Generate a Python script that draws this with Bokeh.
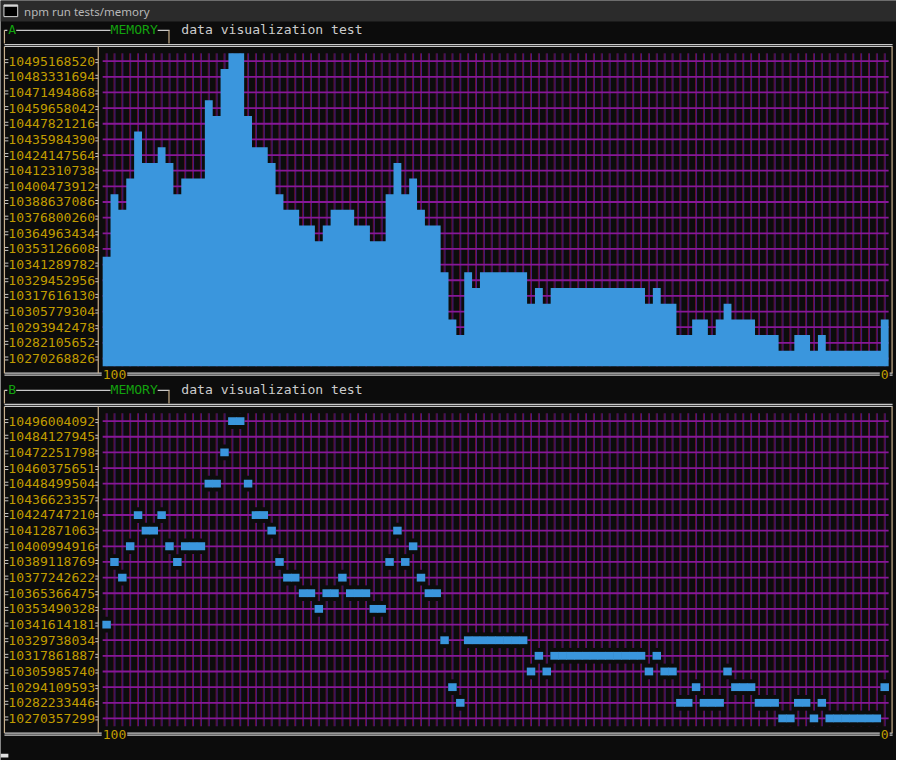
import numpy as np
from bokeh.plotting import figure
from bokeh.models import Range1d
from bokeh.embed import file_html
from bokeh.resources import INLINE
from bokeh.core.properties import value

# ---------------- data ----------------
window_title = "npm run tests/memory"
chart_title = "data visualization test"
series_name = "MEMORY"
panel_names = ["A", "B"]
x_tick_labels = ["100", "0"]

ticks_a = ["10495168520", "10483331694", "10471494868", "10459658042", "10447821216",
           "10435984390", "10424147564", "10412310738", "10400473912", "10388637086",
           "10376800260", "10364963434", "10353126608", "10341289782", "10329452956",
           "10317616130", "10305779304", "10293942478", "10282105652", "10270268826"]

ticks_b = ["10496004092", "10484127945", "10472251798", "10460375651", "10448499504",
           "10436623357", "10424747210", "10412871063", "10400994916", "10389118769",
           "10377242622", "10365366475", "10353490328", "10341614181", "10329738034",
           "10317861887", "10305985740", "10294109593", "10282233446", "10270357299"]

# memory readings in millions of bytes, oldest (left) -> newest (right)
memory_a_mb = [10341.3, 10388.6, 10376.8, 10400.5, 10436.0, 10412.3, 10412.3, 10424.1, 10412.3, 10388.6,
               10400.5, 10400.5, 10400.5, 10459.7, 10447.8, 10483.3, 10495.2, 10495.2, 10447.8, 10424.1,
               10424.1, 10412.3, 10388.6, 10376.8, 10376.8, 10365.0, 10365.0, 10353.1, 10365.0, 10376.8,
               10376.8, 10376.8, 10365.0, 10365.0, 10353.1, 10353.1, 10388.6, 10412.3, 10388.6, 10400.5,
               10376.8, 10365.0, 10365.0, 10329.5, 10293.9, 10282.1, 10329.5, 10317.6, 10329.5, 10329.5,
               10329.5, 10329.5, 10329.5, 10329.5, 10305.8, 10317.6, 10305.8, 10317.6, 10317.6, 10317.6,
               10317.6, 10317.6, 10317.6, 10317.6, 10317.6, 10317.6, 10317.6, 10317.6, 10317.6, 10305.8,
               10317.6, 10305.8, 10305.8, 10282.1, 10282.1, 10293.9, 10293.9, 10282.1, 10293.9, 10305.8,
               10293.9, 10293.9, 10293.9, 10282.1, 10282.1, 10282.1, 10270.3, 10270.3, 10282.1, 10282.1,
               10270.3, 10282.1, 10270.3, 10270.3, 10270.3, 10270.3, 10270.3, 10270.3, 10270.3, 10293.9]

memory_b_mb = [10341.6, 10389.1, 10377.2, 10401.0, 10424.7, 10412.9, 10412.9, 10424.7, 10401.0, 10389.1,
               10401.0, 10401.0, 10401.0, 10448.5, 10448.5, 10472.3, 10496.0, 10496.0, 10448.5, 10424.7,
               10424.7, 10412.9, 10389.1, 10377.2, 10377.2, 10365.4, 10365.4, 10353.5, 10365.4, 10365.4,
               10377.2, 10365.4, 10365.4, 10365.4, 10353.5, 10353.5, 10389.1, 10412.9, 10389.1, 10401.0,
               10377.2, 10365.4, 10365.4, 10329.7, 10294.1, 10282.2, 10329.7, 10329.7, 10329.7, 10329.7,
               10329.7, 10329.7, 10329.7, 10329.7, 10306.0, 10317.9, 10306.0, 10317.9, 10317.9, 10317.9,
               10317.9, 10317.9, 10317.9, 10317.9, 10317.9, 10317.9, 10317.9, 10317.9, 10317.9, 10306.0,
               10317.9, 10306.0, 10306.0, 10282.2, 10282.2, 10294.1, 10282.2, 10282.2, 10282.2, 10306.0,
               10294.1, 10294.1, 10294.1, 10282.2, 10282.2, 10282.2, 10270.4, 10270.4, 10282.2, 10282.2,
               10270.4, 10282.2, 10270.4, 10270.4, 10270.4, 10270.4, 10270.4, 10270.4, 10270.4, 10294.1]

# ---------------- style ----------------
BG = "#0c0c0c"
TITLE_BG = "#2b2b2b"
FRAME = "#c8c8c8"
SIDE = "#c9b08c"
GOLD = "#c19c00"
GREEN = "#13a10e"
TEXT = "#cccccc"
BLUE = "#3a96dd"
HGRID = "#881798"
VGRID_R = "#6e0f34"
VGRID_P = "#4a1c86"
MONO = value("DejaVu Sans Mono")
FS = "13.1px"

# the whole terminal window (912 x 777 layout units) is drawn into the figure
REF_W, REF_H = 912, 777
W, H = 896, 760
PLOT_L, PLOT_R = 104, 904
CELL_W, ROW_H = 8, 16
N = len(memory_a_mb)

p = figure(width=W, height=H, x_range=Range1d(0, REF_W), y_range=Range1d(REF_H, 0),
           output_backend="svg", toolbar_location=None,
           x_axis_location=None, y_axis_location=None, min_border=0,
           background_fill_color=BG, border_fill_color=BG, outline_line_color=None)
p.grid.visible = False

# x scale in "samples ago": 100 at the plot's left edge, 0 at its right edge
p.extra_x_ranges = {"age": Range1d(N + PLOT_L / CELL_W, 0 - (REF_W - PLOT_R) / CELL_W)}

# ---------------- window title bar ----------------
p.quad(left=0, right=REF_W, top=0, bottom=21.5, fill_color=TITLE_BG, line_color=None)
p.quad(left=3.5, right=17.5, top=4.5, bottom=16.5, fill_color="#000000", line_color="#d8d8d8", line_width=1)
p.quad(left=3.5, right=17.5, top=4.5, bottom=6.5, fill_color="#d8d8d8", line_color=None)
p.text(x=[24], y=[11], text=[window_title], text_font=value("Noto Sans"), text_font_size="11.5px",
       text_color="#b8b8b8", text_baseline="middle", text_align="left")

# terminal cursor
p.quad(left=0, right=8, top=770, bottom=774, fill_color="#e0e0e0", line_color=None)


def draw_panel(key, name, ticks, mem_mb, offset, kind):
    tick_vals = np.array([float(t) for t in ticks])
    base, top = tick_vals[-1], tick_vals[0]
    step = (top - base) / (len(ticks) - 1)
    first_row = 62 + offset
    last_row = first_row + (len(ticks) - 1) * ROW_H
    header_y = first_row - 2 * ROW_H
    dbl_top = first_row - ROW_H
    dbl_bot = last_row + ROW_H
    p.extra_y_ranges[key] = Range1d(base - (REF_H - last_row) / ROW_H * step,
                                    base + last_row / ROW_H * step)
    rng = dict(x_range_name="age", y_range_name=key)

    vals = np.array(mem_mb) * 1e6
    n = len(vals)
    age_left = n - np.arange(n)
    age_mid = age_left - 0.5
    grid_bottom = base - step / 2
    grid_top = top + step / 2
    px = 1.0 / CELL_W

    # grid of the terminal cells
    p.segment(x0=age_mid + px / 2, x1=age_mid + px / 2, y0=grid_bottom, y1=grid_top,
              line_color=VGRID_R, line_width=1, **rng)
    p.segment(x0=age_mid - px / 2, x1=age_mid - px / 2, y0=grid_bottom, y1=grid_top,
              line_color=VGRID_P, line_width=1, **rng)
    p.segment(x0=n, x1=0, y0=tick_vals, y1=tick_vals, line_color=HGRID, line_width=1.8, **rng)

    if kind == "bar":
        # one stepped area: each sample fills its cell column up to the row holding its value
        edges = np.append(age_left, age_left[-1] - 1)
        tops = vals + step / 2
        p.varea_step(x=edges, y1=np.full(n + 1, grid_bottom), y2=np.append(tops, tops[-1]),
                     step_mode="after", fill_color=BLUE, **rng)
    else:
        p.rect(x=age_mid, y=vals, width=1.08, height=step, fill_color=BG, line_color=None, **rng)
        p.rect(x=age_mid, y=vals, width=1.08, height=step / 2, fill_color=BLUE, line_color=None, **rng)

    # y tick labels and tick marks on both sides of the label column
    p.text(x=8, y=tick_vals, text=ticks, text_font=MONO, text_font_size=FS, text_color=GOLD,
           text_baseline="middle", text_align="left", y_range_name=key)
    dy = 1.5 * step / ROW_H
    yy = np.concatenate([tick_vals - dy, tick_vals + dy])
    p.segment(x0=96.5, x1=99.5, y0=yy, y1=yy, line_color=FRAME, line_width=1, y_range_name=key)
    p.segment(x0=4, x1=8, y0=yy, y1=yy, line_color=FRAME, line_width=1, y_range_name=key)

    # frame: double lines, side lines, label box line
    for yl in (dbl_top, dbl_bot):
        p.segment(x0=4, x1=908, y0=[yl - 1, yl + 1], y1=[yl - 1, yl + 1],
                  line_color=FRAME, line_width=1.2)
    p.segment(x0=[4, 99.5, 907.5], x1=[4, 99.5, 907.5],
              y0=[dbl_top + 1] * 3, y1=[dbl_bot - 1] * 3, line_color=SIDE, line_width=1.2)

    # x tick labels "100" / "0"
    p.quad(left=PLOT_L - 1, right=PLOT_L + 3 * CELL_W + 1, top=dbl_bot - 6, bottom=dbl_bot + 6,
           fill_color=BG, line_color=None)
    p.quad(left=PLOT_R - CELL_W - 1, right=PLOT_R + 1, top=dbl_bot - 6, bottom=dbl_bot + 6,
           fill_color=BG, line_color=None)
    p.text(x=[n], y=[dbl_bot], text=[x_tick_labels[0]], text_font=MONO, text_font_size=FS,
           text_color=GOLD, text_baseline="middle", text_align="left", x_range_name="age")
    p.text(x=[0], y=[dbl_bot], text=[x_tick_labels[1]], text_font=MONO, text_font_size=FS,
           text_color=GOLD, text_baseline="middle", text_align="right", x_range_name="age")

    # header box: ┌A─────MEMORY┐  data visualization test
    hy = header_y + 0.5
    p.segment(x0=[4, 16, 160], x1=[7, 112, 172], y0=[hy] * 3, y1=[hy] * 3,
              line_color=FRAME, line_width=1.2)
    p.segment(x0=[4, 171.5], x1=[4, 171.5], y0=[hy, hy], y1=[dbl_top - 2] * 2,
              line_color=SIDE, line_width=1.2)
    p.text(x=[8], y=[header_y], text=[name], text_font=MONO, text_font_size=FS,
           text_color=GREEN, text_baseline="middle", text_align="left")
    p.text(x=[112], y=[header_y], text=[series_name], text_font=MONO, text_font_size=FS,
           text_color=GREEN, text_baseline="middle", text_align="left")
    p.text(x=[184], y=[header_y], text=[chart_title], text_font=MONO, text_font_size=FS,
           text_color=TEXT, text_baseline="middle", text_align="left")


draw_panel("memA", panel_names[0], ticks_a, memory_a_mb, 0, "bar")
draw_panel("memB", panel_names[1], ticks_b, memory_b_mb, 368, "dot")

open("out.html", "w").write(file_html(p, INLINE))
